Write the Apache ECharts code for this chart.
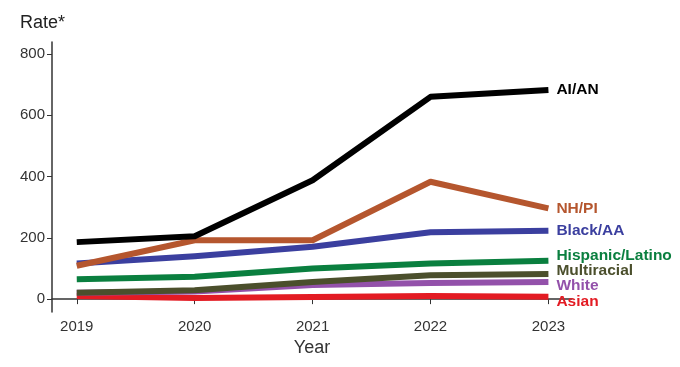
<!DOCTYPE html>
<html><head><meta charset="utf-8">
<script src="https://cdn.jsdelivr.net/npm/echarts@6/dist/echarts.min.js"></script>
<style>html,body{margin:0;padding:0;background:#fff}#c{width:680px;height:367px}</style>
</head><body><div id="c"></div>
<script>
const years = [2019, 2020, 2021, 2022, 2023];
const yTicks = [0, 200, 400, 600, 800];
const asian = [10, 4, 7, 10, 8];
const white = [21, 25, 46, 53, 56];
const multiracial = [21, 29, 56, 78, 82];
const hispanic = [65, 73, 100, 116, 125];
const black = [116, 140, 171, 218, 223];
const nhpi = [109, 192, 192, 383, 296];
const aian = [186, 205, 388, 660, 682];

const seriesDefs = [
  {name: 'Asian', data: asian, color: '#e31b23', dy: 5},
  {name: 'White', data: white, color: '#9351aa', dy: 4},
  {name: 'Multiracial', data: multiracial, color: '#4b4f2c', dy: -3},
  {name: 'Hispanic/Latino', data: hispanic, color: '#0a7f3f', dy: -5},
  {name: 'Black/AA', data: black, color: '#3b3f9f', dy: 0},
  {name: 'NH/PI', data: nhpi, color: '#b5562e', dy: 0},
  {name: 'AI/AN', data: aian, color: '#000000', dy: 0}
];

const chart = echarts.init(document.getElementById('c'), null, {renderer: 'canvas'});
chart.setOption({
  animation: false,
  backgroundColor: '#fff',
  grid: {left: 52, right: 108, top: 42, bottom: 55, containLabel: false, outerBoundsMode: 'none'},
  xAxis: {
    type: 'value', min: 2018.79, max: 2023.2,
    axisLine: {show: true, lineStyle: {color: '#333', width: 1.5}},
    axisTick: {show: true, length: 5, customValues: years, lineStyle: {color: '#333'}},
    axisLabel: {customValues: years, color: '#333', fontSize: 15, fontFamily: 'Liberation Sans, Arial', margin: 7, formatter: v => String(v)},
    splitLine: {show: false},
    name: 'Year', nameLocation: 'middle', nameGap: 27,
    nameTextStyle: {color: '#333', fontSize: 18, fontFamily: 'Liberation Sans, Arial'}
  },
  yAxis: {
    type: 'value', min: -42, max: 839,
    axisLine: {show: true, lineStyle: {color: '#333', width: 1.5}},
    axisTick: {show: true, length: 5, customValues: yTicks, lineStyle: {color: '#333'}},
    axisLabel: {customValues: yTicks, color: '#333', fontSize: 15, fontFamily: 'Liberation Sans, Arial', margin: 7},
    splitLine: {show: false}
  },
  graphic: [{type: 'text', left: 20, top: 14, style: {text: 'Rate*', fill: '#222', font: '18px Liberation Sans, Arial'}}],
  series: seriesDefs.map(s => ({
    type: 'line', name: s.name,
    data: years.map((y, i) => [y, s.data[i]]),
    showSymbol: false, symbol: 'none',
    lineStyle: {color: s.color, width: 6, cap: 'butt', join: 'round'},
    itemStyle: {color: s.color},
    endLabel: {show: true, formatter: s.name, color: s.color, fontWeight: 'bold', fontSize: 15.5,
      fontFamily: 'Liberation Sans, Arial', offset: [3, s.dy], distance: 5}
  }))
});
</script></body></html>
